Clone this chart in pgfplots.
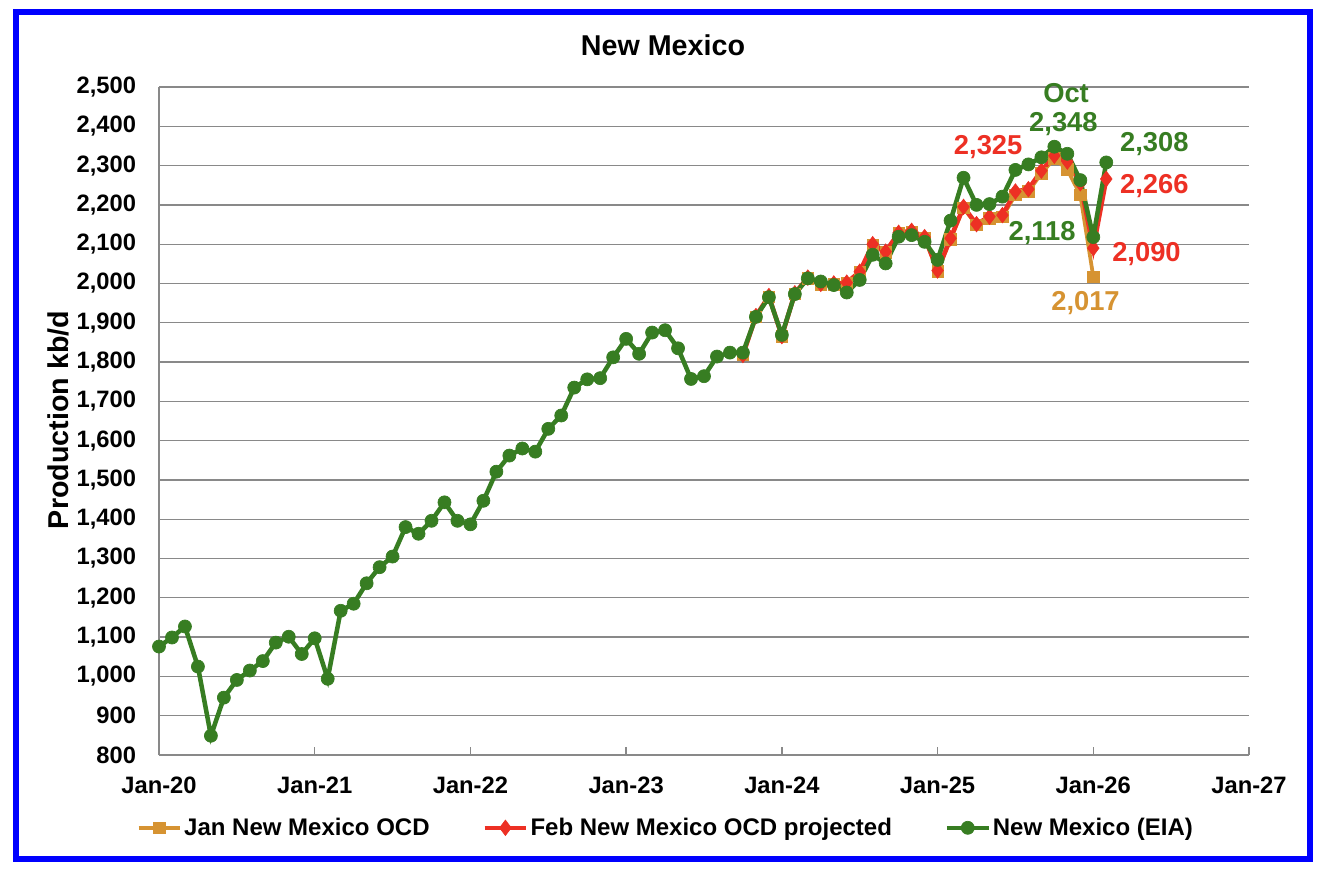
\documentclass[border=0pt]{standalone}
\usepackage{fontspec}
\setmainfont{Liberation Sans}
\usepackage{pgfplots}
\pgfplotsset{compat=1.18}
\definecolor{eiagreen}{RGB}{55,125,34}
\definecolor{febred}{RGB}{237,48,36}
\definecolor{janorange}{RGB}{214,147,50}
\definecolor{gridgray}{RGB}{137,137,137}
\definecolor{frameblue}{RGB}{0,0,255}
\begin{document}
\begin{tikzpicture}
\path[use as bounding box] (0,0) rectangle (994.5pt,655.5pt);
\draw[frameblue,line width=4.5pt] (12pt,11.25pt) rectangle (982.5pt,646.5pt);
\node[font=\fontsize{21.5}{24}\selectfont\bfseries] at (497.25pt,621.75pt) {New Mexico};
\node[rotate=90,font=\fontsize{21.5}{24}\selectfont\bfseries] at (43.5pt,340.5pt) {Production kb/d};
\begin{axis}[
    at={(119.25pt,89.25pt)},
    anchor=south west,
    scale only axis,
    width=817.5pt,
    height=501pt,
    xmin=0, xmax=84,
    ymin=800, ymax=2500,
    xtick={0,12,...,84},
    xticklabels={Jan-20,Jan-21,Jan-22,Jan-23,Jan-24,Jan-25,Jan-26,Jan-27},
    ytick={800,900,...,2500},
    axis x line*=bottom,
    axis y line*=left,
    axis line style={gridgray,line width=1pt,-},
    ymajorgrids,
    major grid style={gridgray,line width=1pt},
    xtick style={gridgray,line width=1pt},
    major tick length=6pt,
    tick align=inside,
    ytick style={draw=none},
    /pgf/number format/.cd, 1000 sep={,}, assume math mode=true,
    /pgfplots/.cd,
    ticklabel style={font=\fontsize{17.8}{20}\selectfont\bfseries},
    xticklabel style={anchor=center,yshift=-22.5pt},
    yticklabel style={anchor=east,inner sep=0pt,xshift=-17pt},
    legend style={
        at={(0.465,-0.109)},
        anchor=center,
        draw=none,
        legend columns=-1,
        font=\fontsize{18}{20}\selectfont\bfseries,
        /tikz/every even column/.append style={column sep=38pt},
        nodes={inner sep=1.5pt},
    },
    legend image code/.code={
        \draw[#1,mark repeat=2,mark phase=2] plot coordinates {(0cm,0cm) (0.55cm,0cm) (1.1cm,0cm)};},
    clip=false,
    ]
% Jan New Mexico OCD
\addplot[janorange,line width=2.8pt,mark=square*,mark size=4.3pt,mark options={solid,line width=0.5pt}] coordinates {
(45,1818) (46,1915) (47,1966) (48,1866) (49,1973) (50,2013) (51,1998) (52,1998)
(53,2000) (54,2028) (55,2098) (56,2079) (57,2127) (58,2132) (59,2116) (60,2031)
(61,2112) (62,2192) (63,2149) (64,2166) (65,2170) (66,2225) (67,2234) (68,2280)
(69,2318) (70,2290) (71,2225) (72,2017)
};
% Feb New Mexico OCD projected
\addplot[febred,line width=3.4pt,mark=diamond*,mark size=5.8pt,mark options={solid,line width=0.5pt}] coordinates {
(45,1818) (46,1917) (47,1968) (48,1866) (49,1975) (50,2015) (51,1999) (52,2000)
(53,2002) (54,2030) (55,2100) (56,2081) (57,2129) (58,2134) (59,2118) (60,2033)
(61,2115) (62,2195) (63,2151) (64,2170) (65,2174) (66,2234) (67,2240) (68,2287)
(69,2325) (70,2310) (71,2255) (72,2090) (73,2266)
};
% New Mexico (EIA)
\addplot[eiagreen,line width=3.4pt,mark=*,mark size=4.9pt,mark options={solid,line width=0.5pt}] coordinates {
(0,1076) (1,1099) (2,1127) (3,1025) (4,849) (5,946) (6,991) (7,1015)
(8,1039) (9,1086) (10,1101) (11,1057) (12,1097) (13,994) (14,1167) (15,1185)
(16,1237) (17,1278) (18,1305) (19,1380) (20,1363) (21,1396) (22,1443) (23,1396)
(24,1387) (25,1447) (26,1521) (27,1562) (28,1580) (29,1572) (30,1630) (31,1664)
(32,1735) (33,1756) (34,1759) (35,1812) (36,1859) (37,1821) (38,1875) (39,1881)
(40,1835) (41,1757) (42,1764) (43,1814) (44,1824) (45,1824) (46,1915) (47,1965)
(48,1869) (49,1973) (50,2013) (51,2005) (52,1996) (53,1977) (54,2009) (55,2073)
(56,2051) (57,2119) (58,2123) (59,2106) (60,2060) (61,2160) (62,2269) (63,2200)
(64,2202) (65,2221) (66,2289) (67,2303) (68,2321) (69,2348) (70,2330) (71,2263)
(72,2118) (73,2308)
};
\legend{Jan New Mexico OCD,Feb New Mexico OCD projected,New Mexico (EIA)}
% data labels
\begin{scope}[every node/.style={font=\fontsize{20.5}{22}\selectfont\bfseries}]
\node[eiagreen] at (axis cs:69.9,2485) {Oct};
\node[eiagreen] at (axis cs:69.7,2406) {2,348};
\node[febred] at (axis cs:63.9,2348) {2,325};
\node[eiagreen] at (axis cs:76.7,2355) {2,308};
\node[febred] at (axis cs:76.7,2249) {2,266};
\node[eiagreen] at (axis cs:68.05,2128) {2,118};
\node[febred] at (axis cs:76.1,2074) {2,090};
\node[janorange] at (axis cs:71.4,1950) {2,017};
\end{scope}
\end{axis}
\end{tikzpicture}
\end{document}
